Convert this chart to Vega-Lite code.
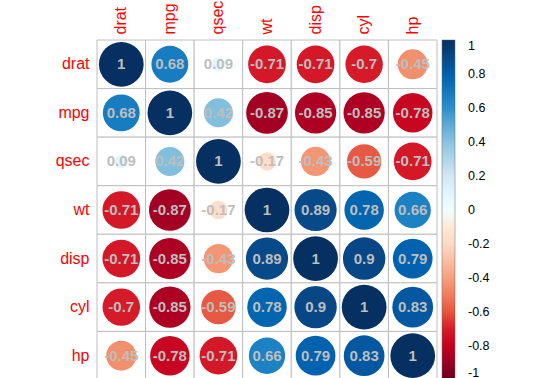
{
  "$schema": "https://vega.github.io/schema/vega-lite/v6.json",
  "autosize": "none",
  "padding": {"left": 97, "top": 40, "right": 100, "bottom": 0},
  "width": 340,
  "height": 340,
  "background": "white",
  "config": {"view": {"stroke": null}},
  "data": {
    "values": [
      {"row": "drat", "col": "drat", "r": 1},
      {"row": "drat", "col": "mpg", "r": 0.68},
      {"row": "drat", "col": "qsec", "r": 0.09},
      {"row": "drat", "col": "wt", "r": -0.71},
      {"row": "drat", "col": "disp", "r": -0.71},
      {"row": "drat", "col": "cyl", "r": -0.7},
      {"row": "drat", "col": "hp", "r": -0.45},
      {"row": "mpg", "col": "drat", "r": 0.68},
      {"row": "mpg", "col": "mpg", "r": 1},
      {"row": "mpg", "col": "qsec", "r": 0.42},
      {"row": "mpg", "col": "wt", "r": -0.87},
      {"row": "mpg", "col": "disp", "r": -0.85},
      {"row": "mpg", "col": "cyl", "r": -0.85},
      {"row": "mpg", "col": "hp", "r": -0.78},
      {"row": "qsec", "col": "drat", "r": 0.09},
      {"row": "qsec", "col": "mpg", "r": 0.42},
      {"row": "qsec", "col": "qsec", "r": 1},
      {"row": "qsec", "col": "wt", "r": -0.17},
      {"row": "qsec", "col": "disp", "r": -0.43},
      {"row": "qsec", "col": "cyl", "r": -0.59},
      {"row": "qsec", "col": "hp", "r": -0.71},
      {"row": "wt", "col": "drat", "r": -0.71},
      {"row": "wt", "col": "mpg", "r": -0.87},
      {"row": "wt", "col": "qsec", "r": -0.17},
      {"row": "wt", "col": "wt", "r": 1},
      {"row": "wt", "col": "disp", "r": 0.89},
      {"row": "wt", "col": "cyl", "r": 0.78},
      {"row": "wt", "col": "hp", "r": 0.66},
      {"row": "disp", "col": "drat", "r": -0.71},
      {"row": "disp", "col": "mpg", "r": -0.85},
      {"row": "disp", "col": "qsec", "r": -0.43},
      {"row": "disp", "col": "wt", "r": 0.89},
      {"row": "disp", "col": "disp", "r": 1},
      {"row": "disp", "col": "cyl", "r": 0.9},
      {"row": "disp", "col": "hp", "r": 0.79},
      {"row": "cyl", "col": "drat", "r": -0.7},
      {"row": "cyl", "col": "mpg", "r": -0.85},
      {"row": "cyl", "col": "qsec", "r": -0.59},
      {"row": "cyl", "col": "wt", "r": 0.78},
      {"row": "cyl", "col": "disp", "r": 0.9},
      {"row": "cyl", "col": "cyl", "r": 1},
      {"row": "cyl", "col": "hp", "r": 0.83},
      {"row": "hp", "col": "drat", "r": -0.45},
      {"row": "hp", "col": "mpg", "r": -0.78},
      {"row": "hp", "col": "qsec", "r": -0.71},
      {"row": "hp", "col": "wt", "r": 0.66},
      {"row": "hp", "col": "disp", "r": 0.79},
      {"row": "hp", "col": "cyl", "r": 0.83},
      {"row": "hp", "col": "hp", "r": 1}
    ]
  },
  "transform": [{"calculate": "abs(datum.r)", "as": "absr"}],
  "encoding": {
    "x": {
      "field": "col", "type": "nominal",
      "sort": ["drat", "mpg", "qsec", "wt", "disp", "cyl", "hp"],
      "scale": {"paddingInner": 0, "paddingOuter": 0},
      "axis": {
        "orient": "top", "title": null, "labelAngle": -90, "labelAlign": "left", "labelBaseline": "middle",
        "labelColor": "#FF0000", "labelFont": "Liberation Sans", "labelFontSize": 16,
        "labelPadding": 6, "domain": false, "ticks": false, "grid": false
      }
    },
    "y": {
      "field": "row", "type": "nominal",
      "sort": ["drat", "mpg", "qsec", "wt", "disp", "cyl", "hp"],
      "scale": {"paddingInner": 0, "paddingOuter": 0},
      "axis": {
        "title": null, "labelColor": "#FF0000", "labelFont": "Liberation Sans", "labelFontSize": 16,
        "labelPadding": 8, "domain": false, "ticks": false, "grid": false
      }
    }
  },
  "layer": [
    {
      "mark": {"type": "rect", "fill": "white", "stroke": "#BEBEBE", "strokeWidth": 1}
    },
    {
      "mark": {"type": "point", "shape": "circle", "filled": true, "opacity": 1, "strokeWidth": 0},
      "encoding": {
        "size": {
          "field": "absr", "type": "quantitative",
          "scale": {"type": "linear", "domain": [0, 1], "range": [0, 2000]},
          "legend": null
        },
        "color": {
          "field": "r", "type": "quantitative",
          "scale": {
            "type": "linear",
            "domain": [-1, -0.8, -0.7, -0.6, -0.4, -0.2, 0, 0.2, 0.4, 0.6, 0.8, 1],
            "range": ["#67001F", "#C4001F", "#D71A28", "#E6553F", "#F6A07E", "#FDD9C6", "#FFFFFF", "#D3E7F2", "#8AC4E1", "#2B90CB", "#0060AD", "#053061"]
          },
          "legend": {
            "orient": "none", "legendX": 345, "legendY": 0, "direction": "vertical",
            "title": null, "gradientLength": 340, "gradientThickness": 13,
            "gradientStrokeColor": "#666666", "gradientStrokeWidth": 0.5,
            "values": [-1, -0.8, -0.6, -0.4, -0.2, 0, 0.2, 0.4, 0.6, 0.8, 1],
            "labelExpr": "'' + datum.value",
            "labelAlign": "center", "labelOffset": 13, "labelBaseline": "middle",
            "labelFont": "Liberation Sans", "labelFontSize": 12.5, "labelColor": "#000000",
            "labelOverlap": false, "labelFlush": false
          }
        }
      }
    },
    {
      "mark": {"type": "text", "font": "Liberation Sans", "fontWeight": "bold", "fontSize": 15, "color": "#BEBEBE", "baseline": "middle", "align": "center"},
      "encoding": {
        "text": {"field": "r", "type": "nominal"}
      }
    }
  ]
}
